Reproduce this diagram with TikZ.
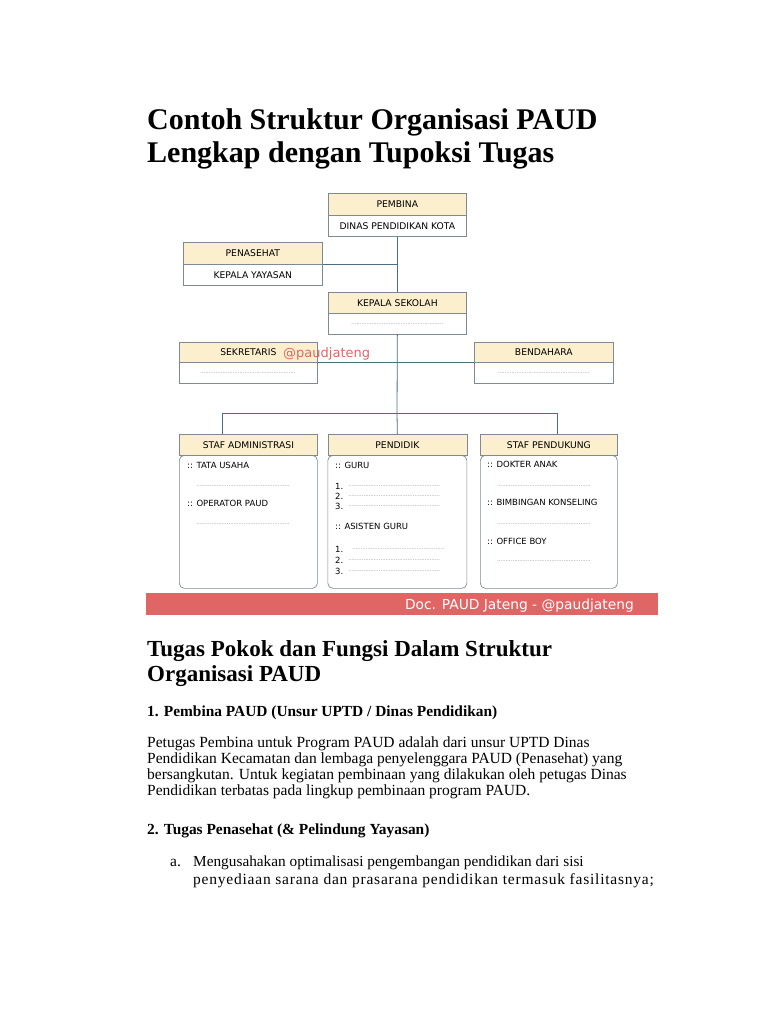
\documentclass[tikz,border=0pt]{standalone}
\usepackage{fontspec}
\setmainfont{Liberation Serif}
\newfontfamily\chartfont{DejaVu Sans}
\definecolor{hdrfill}{RGB}{252,239,205}
\definecolor{boxline}{RGB}{125,138,150}
\definecolor{conn}{RGB}{74,111,130}
\definecolor{wmred}{RGB}{224,102,102}
\definecolor{dotgray}{RGB}{110,110,110}
\newcommand\mydots[1]{\hbox to #1{\leaders\hbox to 1.7pt{\hss.\hss}\hfil}}
\tikzset{
  hdr/.style={draw=boxline, line width=0.7pt, fill=hdrfill, anchor=north west, inner sep=0pt,
    font=\chartfont\fontsize{9.2}{10}\selectfont, text=black},
  bodybox/.style={draw=boxline, line width=0.7pt, fill=white, anchor=north west, inner sep=0pt,
    font=\chartfont\fontsize{9.2}{10}\selectfont, text=black},
  roundbody/.style={bodybox, rounded corners=5pt},
  item/.style={anchor=west, inner sep=0pt, font=\chartfont\fontsize{8.5}{9}\selectfont, text=black},
  dotrow/.style={anchor=west, inner sep=0pt, font=\chartfont\fontsize{5}{6}\selectfont, text=dotgray},
  link/.style={draw=conn, line width=0.8pt},
  txt/.style={anchor=base west, inner sep=0pt, text=black},
}
\begin{document}
\begin{tikzpicture}[x=1pt,y=-1pt]
\fill[white] (0,0) rectangle (768,1024);
\useasboundingbox (0,0) rectangle (768,1024);

% Title
\node[txt, font=\fontsize{30}{34}\selectfont\bfseries] (t1) at (147,130) {Contoh Struktur Organisasi PAUD};
\node[txt, font=\fontsize{30}{34}\selectfont\bfseries] (t2) at (147,163) {Lengkap dengan Tupoksi Tugas};

\coordinate (busL) at (222,413);
\coordinate (busM) at (397,413);
\coordinate (busR) at (557,413);

% Top boxes
\node[hdr, minimum width=138pt, minimum height=22pt] (pembinaH) at (328,193) {PEMBINA};
\node[bodybox, minimum width=138pt, minimum height=21pt] (pembinaB) at (328,215) {DINAS PENDIDIKAN KOTA};

\node[hdr, minimum width=139pt, minimum height=22pt] (penH) at (183,242) {PENASEHAT};
\node[bodybox, minimum width=139pt, minimum height=21pt] (penB) at (183,264) {KEPALA YAYASAN};

\node[hdr, minimum width=138pt, minimum height=21pt] (kepH) at (328,292) {KEPALA SEKOLAH};
\node[bodybox, minimum width=138pt, minimum height=21pt] (kepB) at (328,313) {\hbox{\chartfont\fontsize{5}{6}\selectfont\color{dotgray}\mydots{92pt}}};

\node[hdr, minimum width=138pt, minimum height=20pt] (sekH) at (179,342) {SEKRETARIS};
\node[bodybox, minimum width=138pt, minimum height=21pt] (sekB) at (179,362) {\hbox{\chartfont\fontsize{5}{6}\selectfont\color{dotgray}\mydots{96pt}}};

\node[hdr, minimum width=139pt, minimum height=20pt] (benH) at (474,342) {BENDAHARA};
\node[bodybox, minimum width=139pt, minimum height=21pt] (benB) at (474,362) {\hbox{\chartfont\fontsize{5}{6}\selectfont\color{dotgray}\mydots{92pt}}};

% Lower boxes
\node[roundbody, minimum width=138pt, minimum height=133pt] (admB) at (179,455) {};
\node[hdr, minimum width=138pt, minimum height=21pt] (admH) at (179,434) {STAF ADMINISTRASI};
\node[roundbody, minimum width=139pt, minimum height=133pt] (pendB) at (327.5,455) {};
\node[hdr, minimum width=139pt, minimum height=21pt] (pendH) at (327.5,434) {PENDIDIK};
\node[roundbody, minimum width=137pt, minimum height=133pt] (dukB) at (480,455) {};
\node[hdr, minimum width=137pt, minimum height=21pt] (dukH) at (480,434) {STAF PENDUKUNG};

% Connector lines
\draw[link] (pembinaB.south) -- (kepH.north);
\draw[link] (penB.north east) -- (penB.north east -| pembinaB.south);
\draw[link] (sekB.north east) -- (benB.north west);
\draw[link] (kepB.south) -- (busM);
\draw[link] (busL) -- (busR);
\draw[link] (busL) -- (busL |- admH.north);
\draw[link] (busM) -- (pendH.north);
\draw[link] (busR) -- (busR |- dukH.north);

% Watermark
\node[anchor=base west, inner sep=0pt, text=wmred, font=\chartfont\fontsize{13}{14}\selectfont] (wm) at (283,357) {@paudjateng};

% Staf administrasi contents
\node[item] (a1) at (187,465) {:: TATA USAHA};
\node[dotrow] (a1d) at (196,486) {\mydots{94pt}};
\node[item] (a2) at (187,503) {:: OPERATOR PAUD};
\node[dotrow] (a2d) at (196,524) {\mydots{94pt}};

% Pendidik contents
\node[item] (p1) at (335,465) {:: GURU};
\node[item] (p11) at (335,486) {1.};
\node[dotrow] (p11d) at (348,486) {\mydots{92pt}};
\node[item] (p12) at (335,496) {2.};
\node[dotrow] (p12d) at (348,496) {\mydots{92pt}};
\node[item] (p13) at (335,506) {3.};
\node[dotrow] (p13d) at (348,506) {\mydots{92pt}};
\node[item] (p2) at (335,526) {:: ASISTEN GURU};
\node[item] (p21) at (335,549) {1.};
\node[dotrow] (p21d) at (352,549) {\mydots{92pt}};
\node[item] (p22) at (335,560) {2.};
\node[dotrow] (p22d) at (348,560) {\mydots{92pt}};
\node[item] (p23) at (335,571) {3.};
\node[dotrow] (p23d) at (348,571) {\mydots{92pt}};

% Staf pendukung contents
\node[item] (d1) at (487,464) {:: DOKTER ANAK};
\node[dotrow] (d1d) at (497,486) {\mydots{94pt}};
\node[item] (d2) at (487,502) {:: BIMBINGAN KONSELING};
\node[dotrow] (d2d) at (497,524) {\mydots{94pt}};
\node[item] (d3) at (487,541) {:: OFFICE BOY};
\node[dotrow] (d3d) at (497,561) {\mydots{94pt}};

% Banner
\fill[wmred] (146,593) rectangle (658,615);
\node[anchor=base east, inner sep=0pt, text=white, font=\chartfont\fontsize{13.8}{15}\selectfont] (banner) at (634,609) {Doc. PAUD Jateng - @paudjateng};

% Section heading
\node[txt, font=\fontsize{23}{27}\selectfont\bfseries] (h1) at (147,656) {Tugas Pokok dan Fungsi Dalam Struktur};
\node[txt, font=\fontsize{23}{27}\selectfont\bfseries] (h2) at (147,681) {Organisasi PAUD};

\node[txt, font=\fontsize{15.4}{18}\selectfont\bfseries] (s1) at (147,716) {1. Pembina PAUD (Unsur UPTD / Dinas Pendidikan)};

\node[txt, font=\fontsize{15.5}{18}\selectfont] (l1) at (147,747) {Petugas Pembina untuk Program PAUD adalah dari unsur UPTD Dinas};
\node[txt, font=\fontsize{15.5}{18}\selectfont] (l2) at (147,763) {Pendidikan Kecamatan dan lembaga penyelenggara PAUD (Penasehat) yang};
\node[txt, font=\fontsize{15.5}{18}\selectfont] (l3) at (147,779) {bersangkutan. Untuk kegiatan pembinaan yang dilakukan oleh petugas Dinas};
\node[txt, font=\fontsize{15.5}{18}\selectfont] (l4) at (147,795) {Pendidikan terbatas pada lingkup pembinaan program PAUD.};

\node[txt, font=\fontsize{15.4}{18}\selectfont\bfseries] (s2) at (147,834) {2. Tugas Penasehat (\& Pelindung Yayasan)};

\node[txt, font=\fontsize{15.5}{18}\selectfont] (ia) at (170,866) {a.};
\node[txt, font=\fontsize{15.3}{18}\selectfont] (ia1) at (193,866) {Mengusahakan optimalisasi pengembangan pendidikan dari sisi};
\node[txt, font=\fontsize{15.5}{18}\selectfont\addfontfeature{LetterSpace=5}] (ia2) at (193,884) {penyediaan sarana dan prasarana pendidikan termasuk fasilitasnya;};
\end{tikzpicture}
\end{document}
